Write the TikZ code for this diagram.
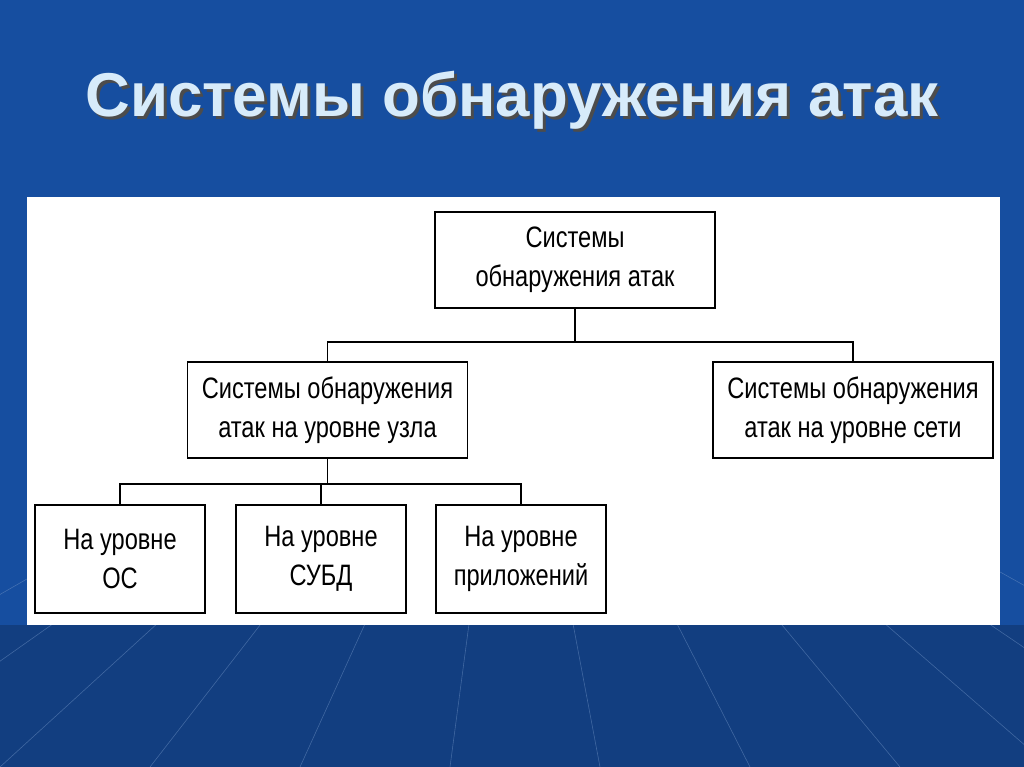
\documentclass[tikz,border=0pt]{standalone}
\usepackage{fontspec}
\setmainfont{Liberation Sans}
\newfontfamily\narrowfont[FakeStretch=0.8]{Liberation Sans}
\usetikzlibrary{positioning}
\definecolor{slideblue}{RGB}{22,78,160}
\definecolor{titlecol}{RGB}{215,235,250}
\tikzset{
    BX/.style ={rectangle, draw, thick, fill=white, align=center, font=\narrowfont\fontsize{21}{28}\selectfont, inner sep=0pt},
    BT/.style ={BX, minimum width=7cm, minimum height=2.4cm},
    BB/.style ={BX, minimum width=4.25cm, minimum height=2.7cm}}
\begin{document}
\begin{tikzpicture}[x=0.025cm,y=-0.025cm]
        \useasboundingbox (0,0) rectangle (1024,767);
        \clip (0,0) rectangle (1024,767);
        \fill[slideblue] (0,0) rectangle (1024,767);
        \fill[slideblue!80!black] (0,625) rectangle (1024,767);
        \foreach \x in {-300,-150,...,1350} \draw[white!40!slideblue,opacity=0.5] (512,300)--(\x,767);
        \fill[white] (27,197) rectangle (1000,625);
        \node[font=\bfseries\fontsize{44}{52}\selectfont,text=black!70] at (515,103) {Системы обнаружения атак};
        \node[font=\bfseries\fontsize{44}{52}\selectfont,text=titlecol] (title) at (512,100) {Системы обнаружения атак};
        \node[BT] (top) at(575,260){Системы\\обнаружения атак};
        \node[BT] (host) at(327.5,410){Системы обнаружения\\атак на уровне узла};
        \node[BT] (net) at(853,410){Системы обнаружения\\атак на уровне сети};
        \node[BB] (os) at(120,559){На уровне\\ОС};
        \node[BB] (db) at(321,559){На уровне\\СУБД};
        \node[BB] (app) at(521,559){На уровне\\приложений};
        \coordinate (hub) at (host.south |- 0,484);
        \draw[thick] (top.south) |- (575,342) -| (host.north);
        \draw[thick] (575,342) -| (net.north);
        \draw[thick] (host.south) -- (hub);
        \draw[thick] (os.north) |- (hub) -| (app.north);
        \draw[thick] (db.north) -- (db.north |- hub);
    \end{tikzpicture}
\end{document}
